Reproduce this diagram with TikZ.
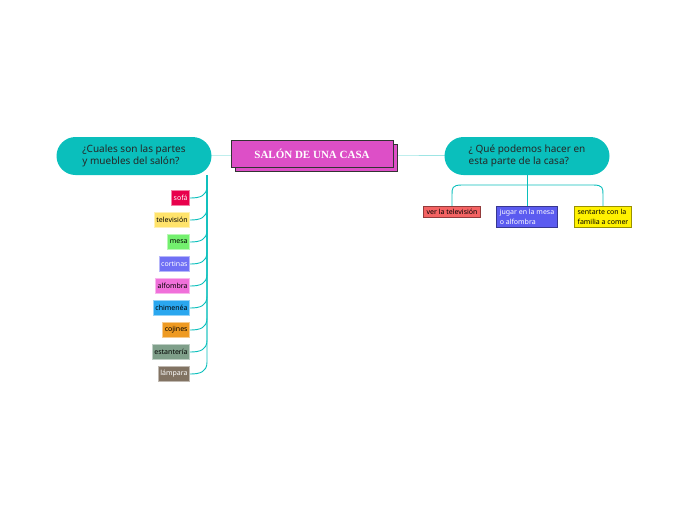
\documentclass[tikz,border=0pt]{standalone}
\usepackage{fontspec}
\setmainfont{Noto Sans}
\newfontfamily\titlefont{Liberation Serif}
\begin{document}
\begin{tikzpicture}[x=1pt,y=-1pt,
 topic/.style={fill=teal!80!cyan!90!green,fill=c1,rounded corners=19pt,minimum height=38pt,align=left,font=\fontsize{10}{12}\selectfont,text=black!85},
 leaf/.style={draw=#1!50!white,fill=#1,line width=0.8pt,inner sep=2pt,minimum height=15pt,font=\fontsize{7}{9}\selectfont,anchor=east},
 rleaf/.style={draw=#1!60!black,fill=#1,line width=0.7pt,inner sep=3pt,font=\fontsize{7}{10}\selectfont,align=left},
 conn/.style={draw=c1,line width=0.9pt}]
\definecolor{c1}{HTML}{0ABFBC}
\definecolor{cmag}{HTML}{DD4FC7}
\definecolor{lsofa}{HTML}{E8004C}
\definecolor{ltv}{HTML}{FFE36B}
\definecolor{lmesa}{HTML}{73F06E}
\definecolor{lcort}{HTML}{7070F5}
\definecolor{lalf}{HTML}{F070DA}
\definecolor{lchim}{HTML}{2AA7EF}
\definecolor{lcoj}{HTML}{EE9A22}
\definecolor{lest}{HTML}{7F9F8A}
\definecolor{llam}{HTML}{827363}
\definecolor{rred}{HTML}{F46363}
\definecolor{rblue}{HTML}{5B5BF0}
\definecolor{ryel}{HTML}{FFF100}
\useasboundingbox (0,0) rectangle (697,520);
% connectors from center
\draw[line width=0.9pt,draw=c1!40] (134,155) -- (313,155) -- (527,155);
% central
\fill[black!80] (235,144) rectangle (398,172);
\fill[cmag] (236,145) rectangle (397,171);
\node[draw=black!80,line width=1pt,fill=cmag,minimum width=162pt,minimum height=27pt,text=white,font=\titlefont\bfseries\fontsize{11}{13}\selectfont] (c) at (312,153.5) {SALÓN DE UNA CASA};
\node[topic,minimum width=155pt] (L) at (134,156) {¿Cuales son las partes\\ y muebles del salón?};
\node[topic,minimum width=165pt] (R) at (527,156) {¿ Qué podemos hacer en\\ esta parte de la casa?};
% left leaves
\foreach \n/\t/\c/\tc/\y in {a/sofá/lsofa/white/198,b/televisión/ltv/black/220,m/mesa/lmesa/black/242,d/cortinas/lcort/white/264,e/alfombra/lalf/black/286,f/chimenéa/lchim/black/308,g/cojines/lcoj/black/330,h/estantería/lest/black/352,i/lámpara/llam/white/374}{
 \node[leaf=\c,text=\tc] (\n) at (190,\y) {\t};
 \draw[conn] (207,175) -- (207,\y-12) .. controls (207,\y-2) and (200,\y) .. (\n.east);
}
% right leaves
\node[rleaf=rred,text=black] (r1) at (452,212) {ver la televisión};
\node[rleaf=rblue,text=white] (r2) at (527,217) {jugar en la mesa\\o alfombra};
\node[rleaf=ryel,text=black] (r3) at (603,217) {sentarte con la\\familia a comer};
\coordinate (j) at (527,185);
\draw[conn] (R.south) -- (r2.north);
\draw[conn] (j) -- (462,185) .. controls (452,185) and (452,188) .. (452,195) -- (r1.north);
\draw[conn] (j) -- (593,185) .. controls (603,185) and (603,188) .. (603,195) -- (r3.north);
\end{tikzpicture}
\end{document}
